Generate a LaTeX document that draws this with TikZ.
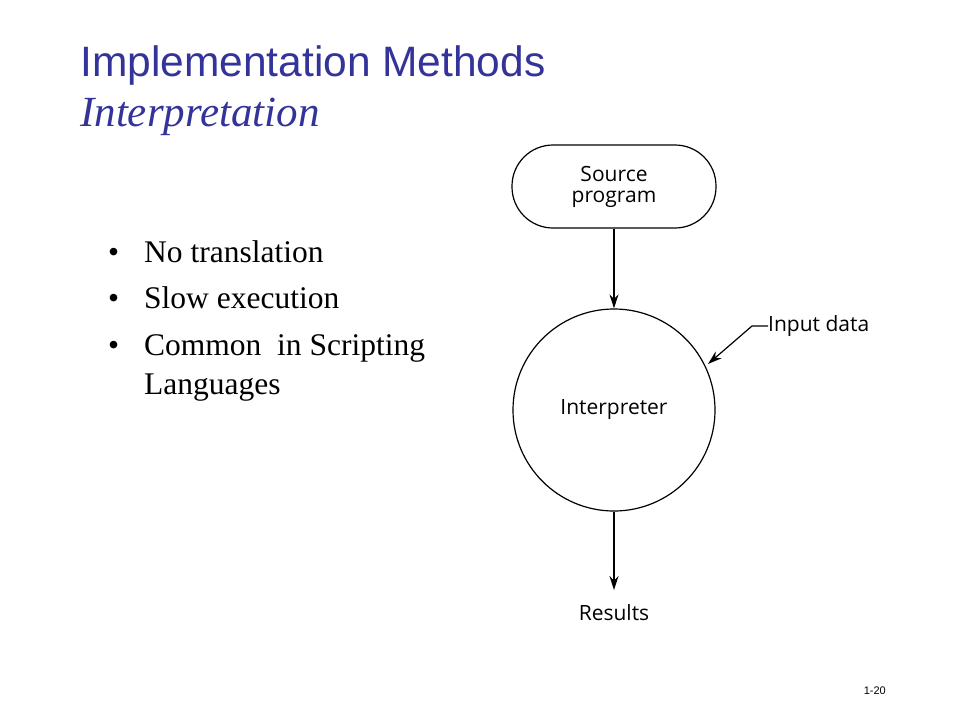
\documentclass[tikz,border=0pt]{standalone}
\usepackage{fontspec}
\setmainfont{Liberation Serif}
\newfontfamily\arialf{Liberation Sans}
\newfontfamily\figf{Open Sans}
\usetikzlibrary{arrows.meta}
\definecolor{titleblue}{RGB}{51,51,153}
\begin{document}
\begin{tikzpicture}[x=1pt,y=-1pt,
  fig/.style={font=\figf\fontsize{21}{25}\selectfont},
  bul/.style={anchor=base west,font=\fontsize{31.5}{36}\selectfont},
  arr/.style={-{Stealth[length=14pt,width=9pt]},line width=1.2pt}]
\useasboundingbox (0,0) rectangle (960,720);
\node[anchor=base west,inner sep=0,text=titleblue,font=\arialf\fontsize{42.5}{48}\selectfont] (t1) at (80,76) {Implementation Methods};
\node[anchor=base west,inner sep=0,text=titleblue,font=\itshape\fontsize{43}{48}\selectfont] (t2) at (80,126) {Interpretation};
\foreach \y/\t [count=\i] in {262/No translation,308/Slow execution,355/Common\ \ in Scripting}{
  \node[bul,inner sep=0] (b\i) at (108,\y) {•};
  \node[bul,inner sep=0] (l\i) at (144,\y) {\t};}
\node[bul,inner sep=0] (l4) at (144,394) {Languages};
\node[draw,line width=1.2pt,rounded corners=41pt,minimum width=204pt,minimum height=83pt,fig,align=center] (src) at (614,186.5) {Source\\[-4pt]program};
\node[draw,circle,line width=1.2pt,minimum size=202pt,fig] (int) at (614,410) {Interpreter};
\node[fig,anchor=base] (res) at (614,620) {Results};
\node[fig,anchor=west,inner sep=0] (inp) at (768,326) {Input data};
\coordinate (c1) at (752,326);
\coordinate (c2) at (708,364);
\draw[arr] (src.south) -- (int.north);
\draw[arr] (int.south) -- (614,590);
\draw[arr] (inp.west) -- (c1) -- (c2);
\node[anchor=base east,inner sep=0,font=\arialf\fontsize{11}{13}\selectfont] (pg) at (886,694) {1-20};
\end{tikzpicture}
\end{document}
